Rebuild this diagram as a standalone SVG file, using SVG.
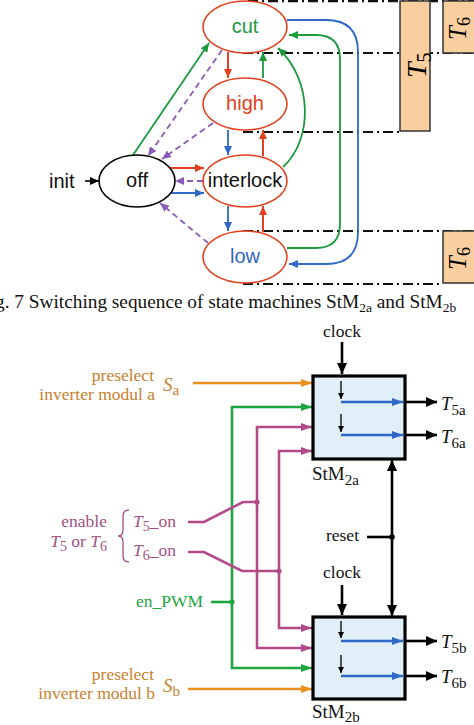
<svg xmlns="http://www.w3.org/2000/svg" width="474" height="725" viewBox="0 0 474 725">
<defs>
<style>
.sans{font-family:"Liberation Sans",Arial,sans-serif;font-size:20px}
.serif{font-family:"Liberation Serif","Times New Roman",serif}
.st{fill:#fff;stroke:#e2401e;stroke-width:1.6}
.dd{fill:none;stroke:#111;stroke-width:1.8;stroke-dasharray:10 4 2 4}
.tbox{fill:#f9cf9f;stroke:#333;stroke-width:1.5}
.r{stroke:#e2401e;stroke-width:2;fill:none}
.g{stroke:#1c9a3e;stroke-width:1.8;fill:none}
.b{stroke:#2f68c6;stroke-width:1.8;fill:none}
.p{stroke:#8a5cb8;stroke-width:1.8;fill:none;stroke-dasharray:6 4}
.k{stroke:#000;stroke-width:1.6;fill:none}
.og{stroke:#ea901c;stroke-width:2.6;fill:none}
.gn{stroke:#1ea440;stroke-width:2.6;fill:none}
.mg{stroke:#b24a88;stroke-width:2.6;fill:none}
.bk{stroke:#000;stroke-width:2.6;fill:none}
.thin{stroke:#000;stroke-width:1.3;fill:none}
.bl{stroke:#2f68c6;stroke-width:2.4;fill:none}
.box{fill:#e1eff9;stroke:#000;stroke-width:3.2}
</style>
<marker id="ar" markerUnits="userSpaceOnUse" markerWidth="9" markerHeight="8" refX="9" refY="4" orient="auto"><path d="M0,0 L9,4 L0,8 z" fill="#e2401e"/></marker>
<marker id="ag" markerUnits="userSpaceOnUse" markerWidth="9" markerHeight="8" refX="9" refY="4" orient="auto"><path d="M0,0 L9,4 L0,8 z" fill="#1c9a3e"/></marker>
<marker id="ab" markerUnits="userSpaceOnUse" markerWidth="9" markerHeight="8" refX="9" refY="4" orient="auto"><path d="M0,0 L9,4 L0,8 z" fill="#2f68c6"/></marker>
<marker id="ap" markerUnits="userSpaceOnUse" markerWidth="9" markerHeight="8" refX="9" refY="4" orient="auto"><path d="M0,0 L9,4 L0,8 z" fill="#8a5cb8"/></marker>
<marker id="ak" markerUnits="userSpaceOnUse" markerWidth="9" markerHeight="8" refX="9" refY="4" orient="auto"><path d="M0,0 L9,4 L0,8 z" fill="#000"/></marker>
<marker id="Bo" markerUnits="userSpaceOnUse" markerWidth="11" markerHeight="8" refX="11" refY="4" orient="auto"><path d="M0,0 L11,4 L0,8 z" fill="#ea901c"/></marker>
<marker id="Bg" markerUnits="userSpaceOnUse" markerWidth="11" markerHeight="8" refX="11" refY="4" orient="auto"><path d="M0,0 L11,4 L0,8 z" fill="#1ea440"/></marker>
<marker id="Bm" markerUnits="userSpaceOnUse" markerWidth="11" markerHeight="8" refX="11" refY="4" orient="auto"><path d="M0,0 L11,4 L0,8 z" fill="#b24a88"/></marker>
<marker id="Bk" markerUnits="userSpaceOnUse" markerWidth="11" markerHeight="10" refX="11" refY="5" orient="auto"><path d="M0,0 L11,5 L0,10 z" fill="#000"/></marker>
<marker id="Bb" markerUnits="userSpaceOnUse" markerWidth="11" markerHeight="8" refX="11" refY="4" orient="auto"><path d="M0,0 L11,4 L0,8 z" fill="#2f68c6"/></marker>
<marker id="Sk" markerUnits="userSpaceOnUse" markerWidth="6" markerHeight="8" refX="6" refY="3" orient="auto"><path d="M0,0 L6,3 L0,6 z" fill="#000"/></marker>
</defs>
<rect width="474" height="725" fill="#fff"/>

<!-- timing guides -->
<g id="guides">
<line class="dd" x1="248" y1="1" x2="474" y2="1" style="stroke-width:2.6"/>
<line class="dd" x1="243" y1="53" x2="474" y2="53"/>
<line class="dd" x1="243" y1="132" x2="400" y2="132"/>
<line class="dd" x1="243" y1="231" x2="474" y2="231"/>
<line class="dd" x1="243" y1="284" x2="443" y2="284"/>
</g>
<g id="T5">
<rect class="tbox" x="400" y="1" width="30" height="130"/>
<text class="serif" font-size="28" font-style="italic" transform="translate(426,78) rotate(-90)">T<tspan font-size="20" font-style="normal" dy="5">5</tspan></text>
</g>
<g id="T6top">
<rect class="tbox" x="443" y="1" width="40" height="52"/>
<text class="serif" font-size="25" font-style="italic" transform="translate(466,40) rotate(-90)">T<tspan font-size="18" font-style="normal" dy="4">6</tspan></text>
</g>
<g id="T6bot">
<rect class="tbox" x="443" y="231" width="40" height="52"/>
<text class="serif" font-size="25" font-style="italic" transform="translate(466,270) rotate(-90)">T<tspan font-size="18" font-style="normal" dy="4">6</tspan></text>
</g>

<!-- state machine connectors -->
<g id="connectors-top">
<line class="r" x1="228" y1="52" x2="228" y2="78" marker-end="url(#ar)"/>
<line class="g" x1="263" y1="78" x2="263" y2="52" marker-end="url(#ag)"/>
<line class="b" x1="228" y1="130" x2="228" y2="155" marker-end="url(#ab)"/>
<line class="r" x1="263" y1="156" x2="263" y2="130" marker-end="url(#ar)"/>
<line class="b" x1="228" y1="206" x2="228" y2="231" marker-end="url(#ab)"/>
<line class="r" x1="263" y1="232" x2="263" y2="206" marker-end="url(#ar)"/>
<line class="r" x1="170" y1="168" x2="204" y2="168" marker-end="url(#ar)"/>
<line class="p" x1="203" y1="181" x2="175" y2="181" marker-end="url(#ap)"/>
<line class="b" x1="170" y1="193" x2="204" y2="193" marker-end="url(#ab)"/>
<line class="g" x1="133" y1="155" x2="209" y2="43" marker-end="url(#ag)"/>
<line class="p" x1="222" y1="50" x2="148" y2="156" marker-end="url(#ap)"/>
<line class="p" x1="213" y1="123" x2="162" y2="159" marker-end="url(#ap)"/>
<line class="p" x1="208" y1="243" x2="160" y2="203" marker-end="url(#ap)"/>
<path class="g" d="M283,167 C313,140 313,80 278,48" marker-end="url(#ag)"/>
<path class="g" d="M287,248 H316 Q340,248 340,224 V59 Q340,35 316,35 H289" marker-end="url(#ag)"/>
<path class="b" d="M287,20 H326 Q358,20 358,52 V232 Q358,264 326,264 H289" marker-end="url(#ab)"/>
<line class="k" x1="85" y1="181" x2="99" y2="181" marker-end="url(#ak)"/>
</g>

<g id="cut"><ellipse class="st" cx="245" cy="27" rx="42" ry="26"/><text class="sans" x="245" y="33" text-anchor="middle" fill="#1c9a3e">cut</text></g>
<g id="high"><ellipse class="st" cx="245" cy="104" rx="42" ry="26"/><text class="sans" x="245" y="110" text-anchor="middle" fill="#e2401e">high</text></g>
<g id="interlock"><ellipse class="st" cx="245" cy="181" rx="42" ry="26"/><text class="sans" x="245" y="187" text-anchor="middle" fill="#111">interlock</text></g>
<g id="low"><ellipse class="st" cx="245" cy="257" rx="42" ry="26"/><text class="sans" x="245" y="263" text-anchor="middle" fill="#2f68c6">low</text></g>
<g id="off"><ellipse cx="137" cy="181" rx="38" ry="26" fill="#fff" stroke="#000" stroke-width="1.6"/><text class="sans" x="137" y="187" text-anchor="middle" fill="#111">off</text></g>
<g id="init"><text class="sans" x="49" y="188" fill="#111">init</text></g>

<g id="caption"><text class="serif" font-size="19.3" x="-21" y="308" fill="#111">Fig. 7 Switching sequence of state machines StM<tspan font-size="13.5" dy="4">2a</tspan><tspan dy="-4"> and StM</tspan><tspan font-size="13.5" dy="4">2b</tspan></text></g>

<!-- block diagram connectors -->
<g id="connectors-bottom">
<line class="og" x1="193" y1="383" x2="312" y2="383" marker-end="url(#Bo)"/>
<line class="og" x1="188" y1="689" x2="312" y2="689" marker-end="url(#Bo)"/>
<path class="gn" d="M232,602 V407 H312" marker-end="url(#Bg)"/>
<path class="gn" d="M232,602 V668 H312" marker-end="url(#Bg)"/>
<path class="gn" d="M211,602 H232"/>
<circle cx="232" cy="602" r="2.6" fill="#1ea440"/>
<path class="mg" d="M257,502 V427 H312" marker-end="url(#Bm)"/>
<path class="mg" d="M257,502 V648 H312" marker-end="url(#Bm)"/>
<path class="mg" d="M188,522 H204 L243,502 H257"/>
<circle cx="257" cy="502" r="2.6" fill="#b24a88"/>
<path class="mg" d="M279,571 V451 H312" marker-end="url(#Bm)"/>
<path class="mg" d="M279,571 V628 H312" marker-end="url(#Bm)"/>
<path class="mg" d="M188,552 H204 L242,571 H279"/>
<circle cx="279" cy="571" r="2.6" fill="#b24a88"/>
<path class="bk" d="M392,537 V460" marker-end="url(#Bk)"/>
<path class="bk" d="M392,537 V616" marker-end="url(#Bk)"/>
<path class="bk" d="M367,537 H392"/>
<circle cx="392" cy="537" r="2.8" fill="#000"/>
<path class="bk" d="M342,342 V374" marker-end="url(#Bk)"/>
<path class="bk" d="M342,585 V615" marker-end="url(#Bk)"/>
<path class="bk" d="M405,402 H437" marker-end="url(#Bk)"/>
<path class="bk" d="M405,435 H437" marker-end="url(#Bk)"/>
<path class="bk" d="M405,641 H437" marker-end="url(#Bk)"/>
<path class="bk" d="M405,676 H437" marker-end="url(#Bk)"/>
</g>

<g id="StM2a">
<rect class="box" x="313" y="376" width="92" height="83"/>
<path class="thin" d="M341,381 V399" marker-end="url(#Sk)"/>
<path class="thin" d="M341,414 V432" marker-end="url(#Sk)"/>
<path class="bl" d="M341,402 H403" marker-end="url(#Bb)"/>
<path class="bl" d="M341,435 H403" marker-end="url(#Bb)"/>
<text class="serif" font-size="19" x="312" y="480" fill="#111">StM<tspan font-size="15" dy="5">2a</tspan></text>
</g>
<g id="StM2b">
<rect class="box" x="313" y="617" width="92" height="82"/>
<path class="thin" d="M341,621 V638" marker-end="url(#Sk)"/>
<path class="thin" d="M341,655 V673" marker-end="url(#Sk)"/>
<path class="bl" d="M341,641 H403" marker-end="url(#Bb)"/>
<path class="bl" d="M341,676 H403" marker-end="url(#Bb)"/>
<text class="serif" font-size="19" x="312" y="718" fill="#111">StM<tspan font-size="15" dy="4">2b</tspan></text>
</g>

<g id="labels" class="serif">
<text font-size="17.5" x="342" y="337" text-anchor="middle" fill="#111">clock</text>
<text font-size="17.5" x="342" y="578" text-anchor="middle" fill="#111">clock</text>
<text font-size="17.5" x="359" y="541" text-anchor="end" fill="#111">reset</text>
<text font-size="19" x="441" y="410" fill="#111" font-style="italic">T<tspan font-style="normal" font-size="15" dy="5">5a</tspan></text>
<text font-size="19" x="441" y="443" fill="#111" font-style="italic">T<tspan font-style="normal" font-size="15" dy="5">6a</tspan></text>
<text font-size="19" x="441" y="648" fill="#111" font-style="italic">T<tspan font-style="normal" font-size="15" dy="5">5b</tspan></text>
<text font-size="19" x="441" y="683" fill="#111" font-style="italic">T<tspan font-style="normal" font-size="15" dy="5">6b</tspan></text>
<g fill="#c8812e" font-size="17.5">
<text x="154" y="381" text-anchor="end">preselect</text>
<text x="155" y="400" text-anchor="end">inverter modul a</text>
<text x="163" y="391" font-size="19" font-style="italic">S<tspan font-style="normal" font-size="15" dy="4">a</tspan></text>
<text x="154" y="680" text-anchor="end">preselect</text>
<text x="155" y="699" text-anchor="end">inverter modul b</text>
<text x="163" y="692" font-size="19" font-style="italic">S<tspan font-style="normal" font-size="15" dy="4">b</tspan></text>
</g>
<text x="203" y="607" font-size="17.5" text-anchor="end" fill="#1ea440">en_PWM</text>
<g fill="#a3517f" font-size="17.5">
<text x="107" y="527" text-anchor="end">enable</text>
<text x="107" y="547" text-anchor="end"><tspan font-style="italic">T</tspan><tspan font-size="14" dy="4">5</tspan><tspan dy="-4"> or </tspan><tspan font-style="italic">T</tspan><tspan font-size="14" dy="4">6</tspan></text>
<text x="133" y="527"><tspan font-style="italic">T</tspan><tspan font-size="14" dy="4">5</tspan><tspan dy="-4">_on</tspan></text>
<text x="133" y="556"><tspan font-style="italic">T</tspan><tspan font-size="14" dy="4">6</tspan><tspan dy="-4">_on</tspan></text>
</g>
<path d="M129,510 Q123,510 123,516 V530 Q123,536 118,536 Q123,536 123,542 V556 Q123,562 129,562" fill="none" stroke="#a3517f" stroke-width="1.3"/>
</g>
</svg>
